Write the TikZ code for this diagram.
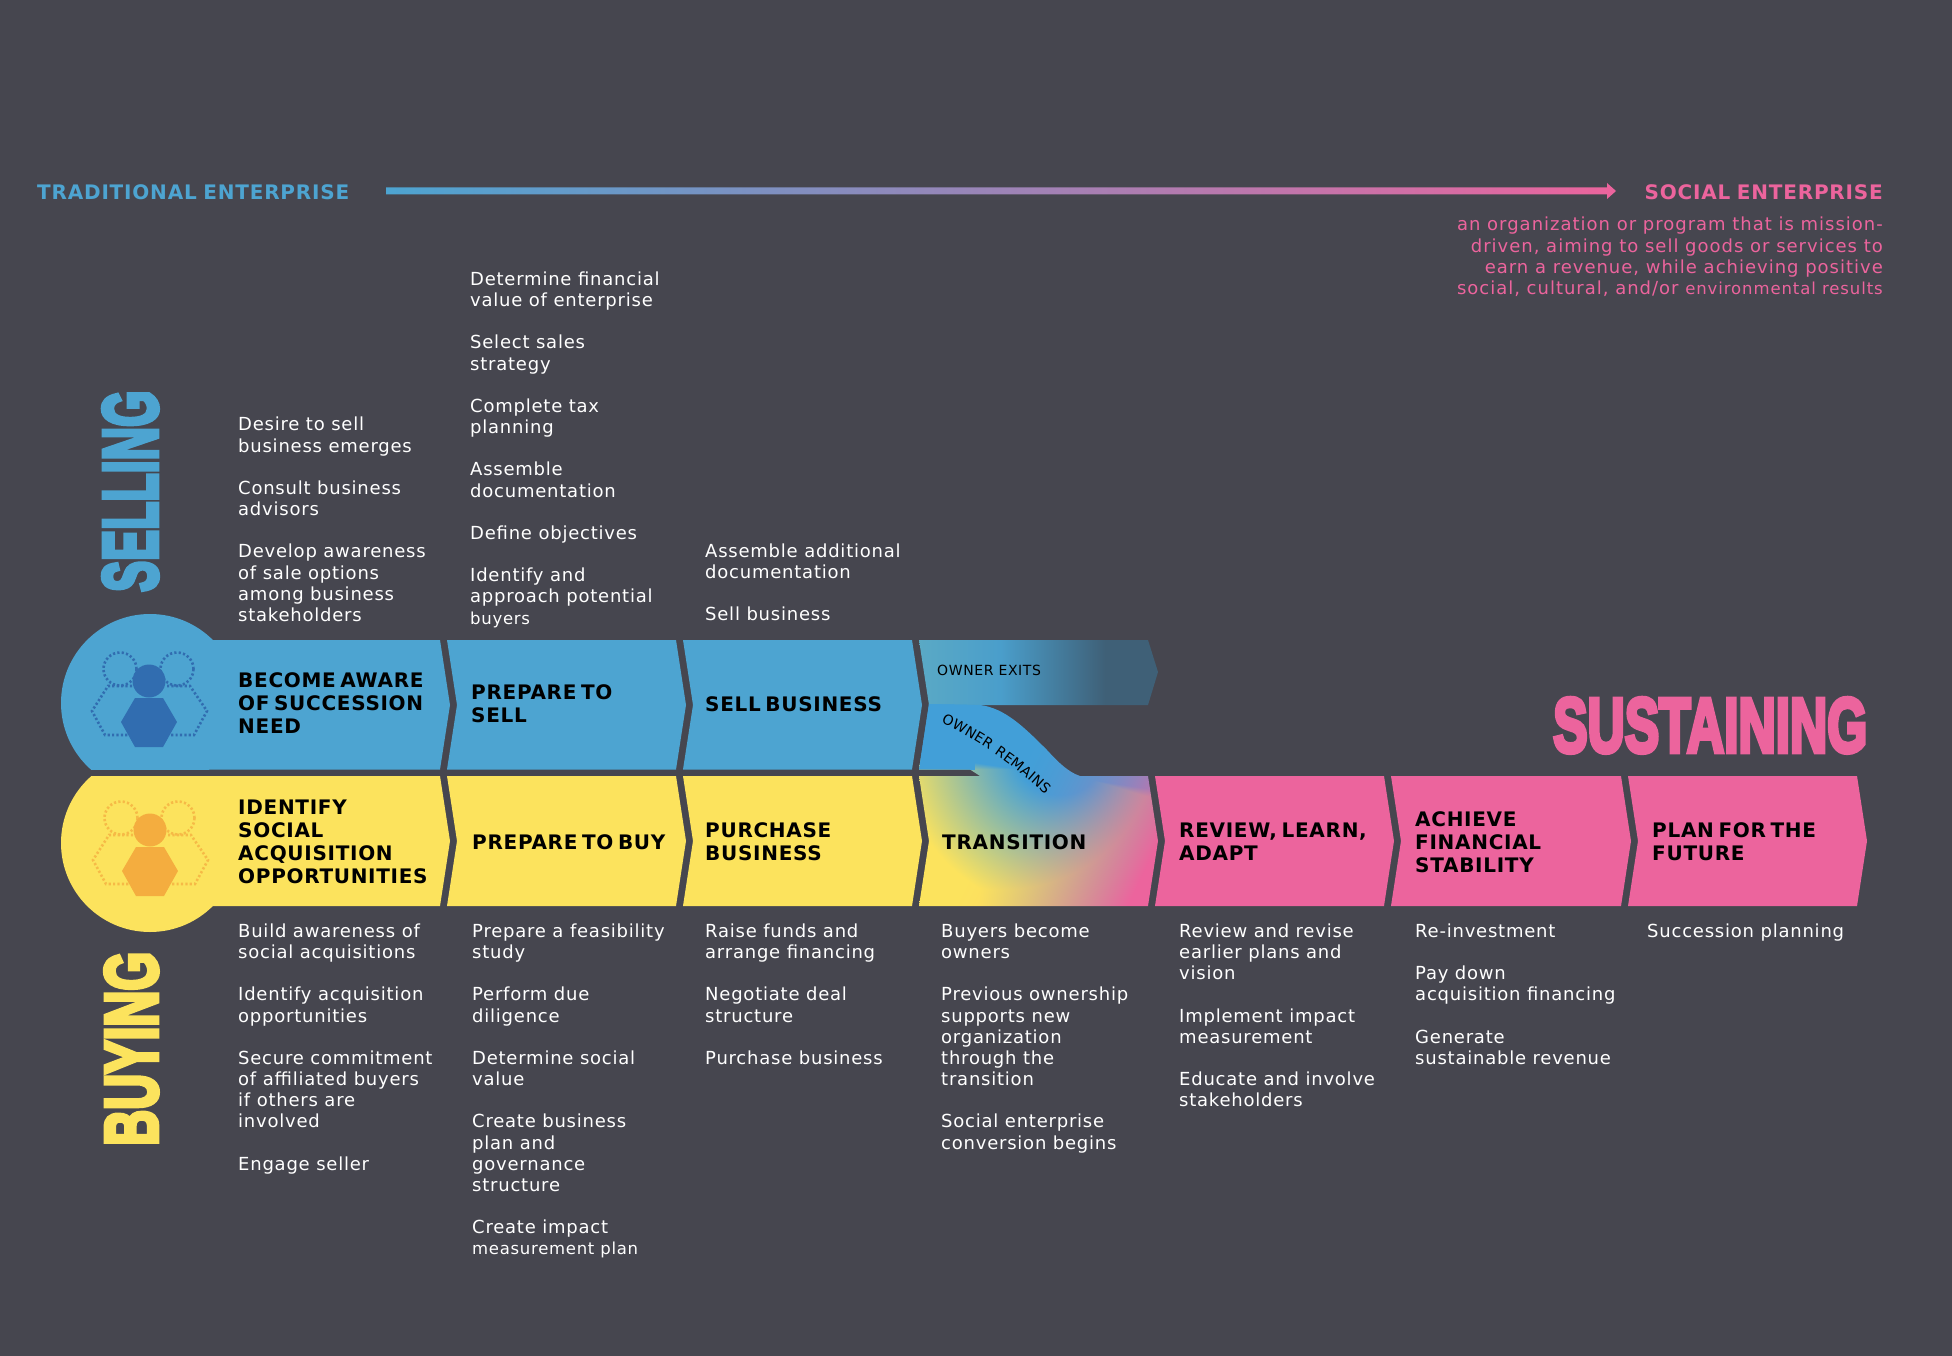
\documentclass[tikz,border=0pt]{standalone}
\usepackage{fontspec}
\usepackage{graphicx}
\usepackage{xcolor}
\usetikzlibrary{decorations.text}

\setmainfont{DejaVu Sans}
\newfontfamily\bodyfont{DejaVu Sans}[LetterSpace=4.3]
\newfontfamily\defnfont{DejaVu Sans}[LetterSpace=5.5]
\newfontfamily\stepfont{DejaVu Sans}[LetterSpace=3.5,WordSpace=0.6]
\newfontfamily\topfont{DejaVu Sans}[LetterSpace=4,WordSpace=0.85]
\newfontfamily\headfont{Liberation Sans}[UprightFont=* Bold,FakeBold=6]

\definecolor{bgc}{HTML}{46464F}
\definecolor{bluec}{HTML}{4DA4D1}
\definecolor{yellowc}{HTML}{FCE35D}
\definecolor{pinkc}{HTML}{EC649D}
\definecolor{iconblue}{HTML}{316DB0}
\definecolor{iconorange}{HTML}{F4AD3F}
\definecolor{flowblue}{HTML}{429FD8}
\definecolor{exitleft}{HTML}{5AA9C5}
\definecolor{exitmid}{HTML}{4A9ECB}
\definecolor{exitright}{HTML}{3F6077}

\pgfdeclarehorizontalshading{exitfade}{100bp}{color(0bp)=(exitleft); color(25bp)=(exitleft);
  color(42bp)=(exitmid); color(64bp)=(exitright); color(100bp)=(exitright)}

% colours of the transition box: yellow, blue glow, pink from the right
\pgfdeclarefunctionalshading{transmesh}{\pgfpointorigin}{\pgfpoint{100bp}{100bp}}{}{
  exch 25 sub 4.92 mul exch 75 exch sub 4.2 mul
  1 index 141 sub dup mul 1 index 50 sub dup mul add sqrt
  160 exch sub 115 div dup 0 lt {pop 0} if dup 1 gt {pop 1} if
  2 index 0.15 mul 72 add 2 index sub 18 div dup 0 lt {pop 0} if dup 1 gt {pop 1} if
  2 copy lt {exch} if pop
  2 index 60 sub 300 div
  2 copy lt {exch} if pop
  2 index 2 index 76 sub 0.5 mul add 92 sub 181 div dup 0 lt {pop 0} if dup 1 gt {pop 1} if dup mul
  4 2 roll pop pop
  1 index -0.729 mul 0.988 add 1 index 1 exch sub mul 1 index 0.925 mul add
  2 index -0.266 mul 0.890 add 2 index 1 exch sub mul 2 index 0.392 mul add
  3 index 0.482 mul 0.365 add 3 index 1 exch sub mul 3 index 0.616 mul add
  5 3 roll pop pop
}

\tikzset{
  bodytext/.style={anchor=north west, inner sep=0pt, align=left, text=white,
    font=\bodyfont\fontsize{18}{21.17}\selectfont},
  steplabel/.style={anchor=west, inner sep=0pt, align=left, text=black,
    font=\stepfont\bfseries\fontsize{20}{23}\selectfont},
  toplabel/.style={inner sep=0pt, font=\topfont\bfseries\fontsize{20}{23}\selectfont},
  dotline/.style={line width=2.6pt, dash pattern=on 2.2pt off 2.2pt}
}
\newcommand{\gap}{\\[21.17pt]}
\newcommand{\smalltxt}{\fontsize{16.5}{21.17}\selectfont}

\begin{document}
\begin{tikzpicture}[x=1pt,y=-1pt]
\useasboundingbox (0,0) rectangle (1952,1356);
\fill[bgc] (0,0) rectangle (1952,1356);

% ==== Top arrow ====
\coordinate (arrowstart) at (386,191);
\coordinate (arrowend) at (1616,191);
\shade[left color=bluec, right color=pinkc] (arrowstart) ++(0,-3.5) -- (1607,187.5) -- (1607,183)
  -- (arrowend) -- (1607,199) -- (1607,194.5) -- (386,194.5) -- cycle;
\node[toplabel, anchor=base west, text=bluec] (traditional) at (37,199.5) {TRADITIONAL ENTERPRISE};
\node[toplabel, anchor=base east, text=pinkc] (social) at (1883,199.5) {SOCIAL ENTERPRISE};
\node[bodytext, anchor=north east, align=right, text=pinkc,
  font=\defnfont\fontsize{18}{21.17}\selectfont] (socialdef) at (1883,217)
  {an organization or program that is mission-\\driven, aiming to sell goods or services to\\
  earn a revenue, while achieving positive\\social, cultural, and/or {\smalltxt environmental results}};

% ==== Selling row ====
\begin{scope}
\clip (0,600) rectangle (300,769.5);
\fill[bluec] (150,703) circle[radius=89pt];
\end{scope}
\fill[bluec] (150,640) -- (440,640) -- (450,705) -- (440,769.5) -- (150,769.5) -- cycle;
\fill[bluec] (447,640) -- (676,640) -- (686,705) -- (676,769.5) -- (447,769.5) -- (457,705) -- cycle;
\fill[bluec] (683,640) -- (912,640) -- (922,705) -- (912,769.5) -- (683,769.5) -- (693,705) -- cycle;

% ==== Buying row ====
\begin{scope}
\clip (0,776) rectangle (300,950);
\fill[yellowc] (150,843) circle[radius=89pt];
\end{scope}
\fill[yellowc] (150,776) -- (440,776) -- (450,841) -- (440,906) -- (150,906) -- cycle;
\fill[yellowc] (447,776) -- (676,776) -- (686,841) -- (676,906) -- (447,906) -- (457,841) -- cycle;
\fill[yellowc] (683,776) -- (912,776) -- (922,841) -- (912,906) -- (683,906) -- (693,841) -- cycle;

% ==== Sustaining row ====
\fill[pinkc] (1155,776) -- (1384,776) -- (1394,841) -- (1384,906) -- (1155,906) -- (1165,841) -- cycle;
\fill[pinkc] (1391,776) -- (1621,776) -- (1631,841) -- (1621,906) -- (1391,906) -- (1401,841) -- cycle;
\fill[pinkc] (1628,776) -- (1857,776) -- (1867,841) -- (1857,906) -- (1628,906) -- (1638,841) -- cycle;

% ==== Owner exits ====
\shade[shading=exitfade] (919,640) -- (1148,640) -- (1158,672) -- (1148,705) -- (929,705) -- cycle;

% ==== Owner remains and transition ====
\begin{scope}
\clip (929,704) -- (980,705) .. controls (1005,708) and (1025,728) .. (1047,750)
  .. controls (1058,762) and (1068,772) .. (1080,776) -- (1148,776) -- (1158,841) -- (1148,906)
  -- (919,906) -- (929,841) -- (919,776) -- (980,776) -- (970,769.5) -- (919,769.5) -- cycle;
\shade[shading=transmesh] (919,700) rectangle (1165,910);
\fill[flowblue] (919,700) rectangle (975,770);
\end{scope}

% Icons
\draw[iconblue, dotline] (120,669) circle[radius=16.5pt];
\draw[iconblue, dotline] (177,669) circle[radius=16.5pt];
\draw[iconblue, dotline] (132,686) -- (108,686) -- (92,711) -- (105,735) -- (128,735);
\draw[iconblue, dotline] (167,686) -- (190,686) -- (207,711) -- (194,735) -- (171,735);
\fill[iconblue] (149,681) circle[radius=16.5pt];
\fill[iconblue] (121,722) -- (135,698) -- (163,698) -- (177,722) -- (163,747) -- (135,747) -- cycle;

\begin{scope}[shift={(1,149)}]
\draw[iconorange!75!yellowc, dotline] (120,669) circle[radius=16.5pt];
\draw[iconorange!75!yellowc, dotline] (177,669) circle[radius=16.5pt];
\draw[iconorange!75!yellowc, dotline] (132,686) -- (108,686) -- (92,711) -- (105,735) -- (128,735);
\draw[iconorange!75!yellowc, dotline] (167,686) -- (190,686) -- (207,711) -- (194,735) -- (171,735);
\fill[iconorange] (149,681) circle[radius=16.5pt];
\fill[iconorange] (121,722) -- (135,698) -- (163,698) -- (177,722) -- (163,747) -- (135,747) -- cycle;
\end{scope}

% Big words
\node[text=bluec, inner sep=0pt, rotate=90, anchor=south west] (selling) at (158,592)
  {\resizebox{201pt}{54pt}{\headfont SELLING}};
\node[text=yellowc, inner sep=0pt, rotate=90, anchor=south west] (buying) at (158,1146)
  {\resizebox{194pt}{52pt}{\headfont BUYING}};
\node[text=pinkc, inner sep=0pt, anchor=south west] (sustaining) at (1553,753)
  {\resizebox{314pt}{54pt}{\headfont SUSTAINING}};

% Step labels
\node[steplabel] (aware) at (238,703) {BECOME AWARE\\OF SUCCESSION\\NEED};
\node[steplabel] (prepsell) at (471,704) {PREPARE TO\\SELL};
\node[steplabel] (sellbiz) at (705,704) {SELL BUSINESS};
\node[steplabel] (identify) at (238,842) {IDENTIFY\\SOCIAL\\ACQUISITION\\OPPORTUNITIES};
\node[steplabel] (prepbuy) at (472,842) {PREPARE TO BUY};
\node[steplabel] (purchase) at (705,842) {PURCHASE\\BUSINESS};
\node[steplabel] (transition) at (942,842) {TRANSITION};
\node[steplabel] (review) at (1179,842) {REVIEW, LEARN,\\ADAPT};
\node[steplabel] (stability) at (1415,842) {ACHIEVE\\FINANCIAL\\STABILITY};
\node[steplabel] (future) at (1652,842) {PLAN FOR THE\\FUTURE};

% Flow labels
\node[inner sep=0pt, anchor=base west, font=\bodyfont\fontsize{14}{14}\selectfont] (exits) at (937,675) {OWNER EXITS};
\path[decorate, decoration={text along path, text align=fit to path,
  text={|\bodyfont\fontsize{14}{14}\selectfont|OWNER REMAINS}}]
  (941,723) .. controls (975,738) and (1018,768) .. (1045,795);

% Selling text
\node[bodytext] (sellone) at (238,417) {Desire to sell\\business emerges\gap
  Consult business\\advisors\gap Develop awareness\\of sale options\\among business\\stakeholders};
\node[bodytext] (selltwo) at (470,271.5) {Determine financial\\value of enterprise\gap
  Select sales\\strategy\gap Complete tax\\planning\gap Assemble\\documentation\gap
  Define objectives\gap Identify and\\approach potential\\{\smalltxt buyers}};
\node[bodytext] (sellthree) at (705,543.5) {Assemble additional\\documentation\gap Sell business};

% Buying text
\node[bodytext] (buyone) at (238,923.5) {Build awareness of\\social acquisitions\gap
  Identify acquisition\\opportunities\gap Secure commitment\\of affiliated buyers\\
  if others are\\involved\gap Engage seller};
\node[bodytext] (buytwo) at (472,923.5) {Prepare a feasibility\\study\gap Perform due\\diligence\gap
  Determine social\\value\gap Create business\\plan and\\governance\\structure\gap
  Create impact\\{\smalltxt measurement plan}};
\node[bodytext] (buythree) at (705,923.5) {Raise funds and\\arrange financing\gap
  Negotiate deal\\structure\gap Purchase business};
\node[bodytext] (buyfour) at (941,923.5) {Buyers become\\owners\gap Previous ownership\\
  supports new\\organization\\through the\\transition\gap Social enterprise\\conversion begins};

% Sustaining text
\node[bodytext] (susone) at (1179,923.5) {Review and revise\\earlier plans and\\vision\gap
  Implement impact\\measurement\gap Educate and involve\\stakeholders};
\node[bodytext] (sustwo) at (1415,923.5) {Re-investment\gap Pay down\\acquisition financing\gap
  Generate\\sustainable revenue};
\node[bodytext] (susthree) at (1647,923.5) {Succession planning};

\end{tikzpicture}
\end{document}
